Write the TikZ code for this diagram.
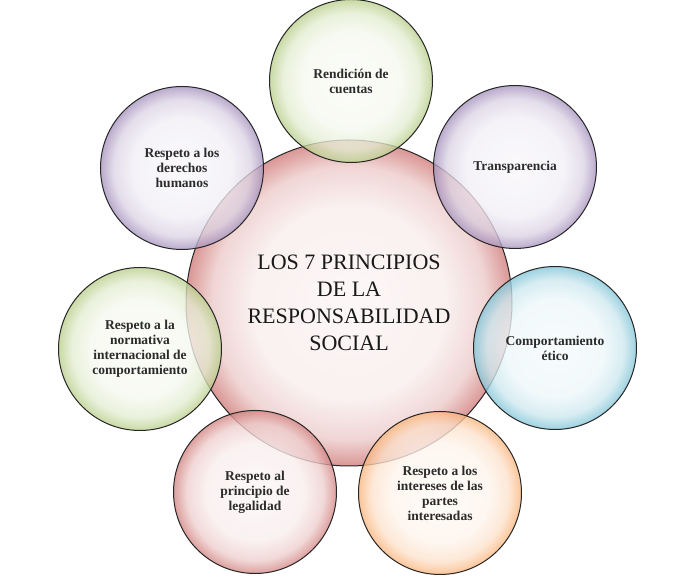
\documentclass[tikz,border=0pt]{standalone}
\usepackage{fontspec}
\setmainfont{Liberation Serif}
\usepackage{tikz}
\usetikzlibrary{positioning,calc}
\definecolor{rsVerde}{HTML}{9BBB59}
\definecolor{rsMorado}{HTML}{8064A2}
\definecolor{rsAqua}{HTML}{4BACC6}
\definecolor{rsNaranja}{HTML}{F79646}
\definecolor{rsRojo}{HTML}{C0504D}
\definecolor{rsTexto}{HTML}{2B2B2B}
\colorlet{bubcol}{rsRojo}
\pgfdeclareradialshading[bubcol]{burbuja}{\pgfpoint{0bp}{0bp}}{%
  color(0bp)=(bubcol!5!white); color(15bp)=(bubcol!10!white);
  color(21bp)=(bubcol!28!white); color(25bp)=(bubcol!70!white);
  color(50bp)=(bubcol!70!white)}

\begin{document}
\begin{tikzpicture}[x=1pt,y=1pt,
   burbuja/.style={circle,draw=black!85,line width=1pt,minimum size=163pt,
               /utils/exec={\colorlet{bubcol}{#1}},shading=burbuja,
               fill opacity=0.78,text opacity=1,text=rsTexto,align=center,
               inner sep=1pt,font=\fontsize{13.5}{15}\selectfont\bfseries},
   centro/.style={circle,draw=black!85,line width=1pt,minimum size=326pt,
               /utils/exec={\colorlet{bubcol}{rsRojo}},shading=burbuja,
               fill opacity=0.85,text opacity=1,text=black!90,align=center,
               font=\fontsize{22}{27}\selectfont}]
  \useasboundingbox (0,0) rectangle (697,580);
  \node[centro] (ppios) at (349,277) {LOS 7 PRINCIPIOS\\DE LA\\RESPONSABILIDAD\\SOCIAL};
  \node[burbuja=rsVerde] (rendicion) at (351,499) {Rendición de\\cuentas};
  \node[burbuja=rsMorado] (transp) at (515,413) {Transparencia};
  \node[burbuja=rsAqua] (etico) at (555,232) {Comportamiento\\ético};
  \node[burbuja=rsNaranja] (intereses) at (440,87) {Respeto a los\\intereses de las\\partes\\interesadas};
  \node[burbuja=rsRojo] (legalidad) at (255,88) {Respeto al\\principio de\\legalidad};
  \node[burbuja=rsVerde] (normativa) at (140,231) {Respeto a la\\normativa\\internacional de\\comportamiento};
  \node[burbuja=rsMorado] (derechos) at (182,412) {Respeto a los\\derechos\\humanos};
\end{tikzpicture}
\end{document}
